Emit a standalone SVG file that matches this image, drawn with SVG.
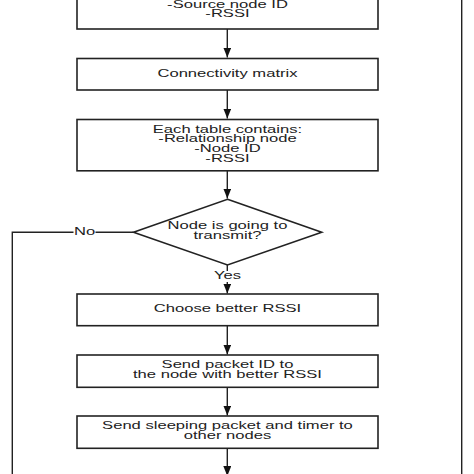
<svg xmlns="http://www.w3.org/2000/svg" width="474" height="474" viewBox="0 0 474 474">
<defs>
<marker id="ah" markerWidth="10" markerHeight="8" refX="10" refY="4" orient="auto" markerUnits="userSpaceOnUse">
<path d="M0,0 L10,4 L0,8 Z" fill="#111"/>
</marker>
<style>
.box{fill:#fff;stroke:#222;stroke-width:1.6}
.ln{fill:none;stroke:#222;stroke-width:1.4}
.t{font-family:"Liberation Sans",Arial,sans-serif;font-size:10px;fill:#222;text-anchor:middle}
</style>
</defs>
<rect width="474" height="474" fill="#fff"/>
<g id="connectors">
<path class="ln" d="M227.3,29 V57.5" marker-end="url(#ah)"/>
<path class="ln" d="M227.3,90 V118.5" marker-end="url(#ah)"/>
<path class="ln" d="M227.3,171 V198.5" marker-end="url(#ah)"/>
<path class="ln" d="M227.3,265 V271"/>
<path class="ln" d="M227.3,282 V293.5" marker-end="url(#ah)"/>
<path class="ln" d="M227.3,326 V354.5" marker-end="url(#ah)"/>
<path class="ln" d="M227.3,387.5 V415.5" marker-end="url(#ah)"/>
<path class="ln" d="M227.3,448.5 V476" marker-end="url(#ah)"/>
<path class="ln" d="M133.5,232.3 H95.5"/>
<path class="ln" d="M73.5,232.3 H12.3 V474"/>
<path class="ln" d="M461.7,0 V474"/>
<text class="t" transform="matrix(1.66 0 0 1 -150.15 0)" x="141.4" y="235.3">No</text>
<text class="t" transform="matrix(1.66 0 0 1 -150.15 0)" x="227.5" y="279.5">Yes</text>
</g>
<g id="n1">
<rect class="box" x="77" y="-30" width="301" height="59"/>
<text class="t" transform="matrix(1.66 0 0 1 -150.15 0)" x="227.5" y="7.5">-Source node ID</text>
<text class="t" transform="matrix(1.66 0 0 1 -150.15 0)" x="227.5" y="17.5">-RSSI</text>
</g>
<g id="n2">
<rect class="box" x="77" y="58.5" width="301" height="31.5"/>
<text class="t" transform="matrix(1.66 0 0 1 -150.15 0)" x="227.5" y="76.7">Connectivity matrix</text>
</g>
<g id="n3">
<rect class="box" x="77" y="119.5" width="301" height="51.3"/>
<text class="t" transform="matrix(1.66 0 0 1 -150.15 0)" x="227.5" y="132.6">Each table contains:</text>
<text class="t" transform="matrix(1.66 0 0 1 -150.15 0)" x="227.5" y="142.5">-Relationship node</text>
<text class="t" transform="matrix(1.66 0 0 1 -150.15 0)" x="227.5" y="152.4">-Node ID</text>
<text class="t" transform="matrix(1.66 0 0 1 -150.15 0)" x="227.5" y="162.3">-RSSI</text>
</g>
<g id="n4">
<polygon class="box" points="227.5,199.3 321.7,232.3 227.5,265 133.5,232.3"/>
<text class="t" transform="matrix(1.66 0 0 1 -150.15 0)" x="227.5" y="229.4">Node is going to</text>
<text class="t" transform="matrix(1.66 0 0 1 -150.15 0)" x="227.5" y="239.4">transmit?</text>
</g>
<g id="n5">
<rect class="box" x="77" y="294" width="301" height="31.7"/>
<text class="t" transform="matrix(1.66 0 0 1 -150.15 0)" x="227.5" y="312.4">Choose better RSSI</text>
</g>
<g id="n6">
<rect class="box" x="77" y="355" width="301" height="32.3"/>
<text class="t" transform="matrix(1.66 0 0 1 -150.15 0)" x="227.5" y="367.8">Send packet ID to</text>
<text class="t" transform="matrix(1.66 0 0 1 -150.15 0)" x="227.5" y="378.2">the node with better RSSI</text>
</g>
<g id="n7">
<rect class="box" x="77" y="416" width="301" height="32.3"/>
<text class="t" transform="matrix(1.66 0 0 1 -150.15 0)" x="227.5" y="429">Send sleeping packet and timer to</text>
<text class="t" transform="matrix(1.66 0 0 1 -150.15 0)" x="227.5" y="439">other nodes</text>
</g>
</svg>
